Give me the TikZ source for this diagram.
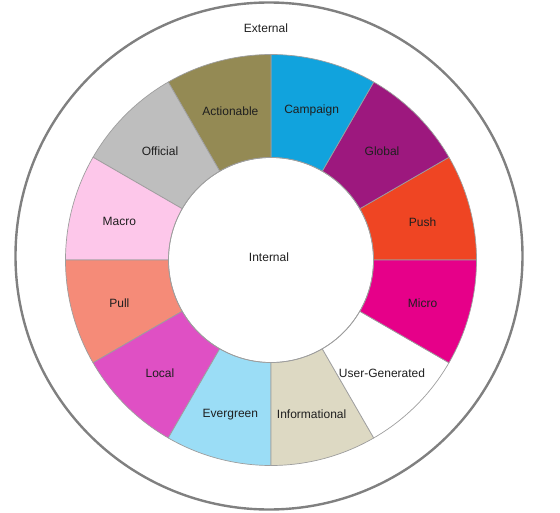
\documentclass[tikz,border=0pt]{standalone}
\usepackage{fontspec}
\setmainfont{Liberation Sans}
\usepackage{tikz}
\usetikzlibrary{positioning}
\definecolor{campaignFill}{RGB}{17,163,221}
\definecolor{globalFill}{RGB}{157,24,126}
\definecolor{pushFill}{RGB}{239,69,35}
\definecolor{microFill}{RGB}{230,0,137}
\definecolor{usergenFill}{RGB}{255,255,255}
\definecolor{infoFill}{RGB}{221,217,195}
\definecolor{evergreenFill}{RGB}{155,221,246}
\definecolor{localFill}{RGB}{223,80,196}
\definecolor{pullFill}{RGB}{245,139,120}
\definecolor{macroFill}{RGB}{253,199,234}
\definecolor{officialFill}{RGB}{190,190,190}
\definecolor{actionFill}{RGB}{148,138,84}
\colorlet{ink}{black!88}
\colorlet{rimStroke}{black!50}
\colorlet{segStroke}{black!38}
\tikzset{
  segment/.style={draw=segStroke, line width=0.7pt},
  rim/.style={circle, draw=rimStroke, line width=2.4pt, minimum size=507pt, inner sep=0pt},
  hub/.style={circle, draw=segStroke, line width=0.7pt, minimum size=205pt, inner sep=0pt},
  ringlabel/.style={font=\fontsize{12}{14}\selectfont, text=ink, inner sep=1pt},
  seglabel/.style={ringlabel, yshift=-2.5pt}
}

\begin{document}
\begin{tikzpicture}[x=1pt,y=1pt]
  \useasboundingbox (-271,-252) rectangle (289,260);

  % outer ring
  \node[rim] (external) at (-2,4) {};
  \node[ringlabel] (externalText) at (-5,232) {External};

  % donut segments, counter-clockwise from 0 deg
  \foreach \a/\name/\lab/\col in {
    0/push/Push/pushFill,
    30/global/Global/globalFill,
    60/campaign/Campaign/campaignFill,
    90/action/Actionable/actionFill,
    120/official/Official/officialFill,
    150/macro/Macro/macroFill,
    180/pull/Pull/pullFill,
    210/local/Local/localFill,
    240/evergreen/Evergreen/evergreenFill,
    270/info/Informational/infoFill,
    300/usergen/User-Generated/usergenFill,
    330/micro/Micro/microFill}{
    \filldraw[segment, fill=\col] (\a:102.5pt) -- (\a:205.5pt)
      arc[start angle=\a, end angle=\a+30, radius=205.5pt]
      -- ({\a+30}:102.5pt)
      arc[start angle=\a+30, end angle=\a, radius=102.5pt] -- cycle;
    \node[seglabel] (\name) at ({\a+15}:157pt) {\lab};
  }

  % centre
  \node[hub] (internal) at (0,0) {};
  \node[ringlabel] (internalText) at (-2,3) {Internal};
\end{tikzpicture}
\end{document}
